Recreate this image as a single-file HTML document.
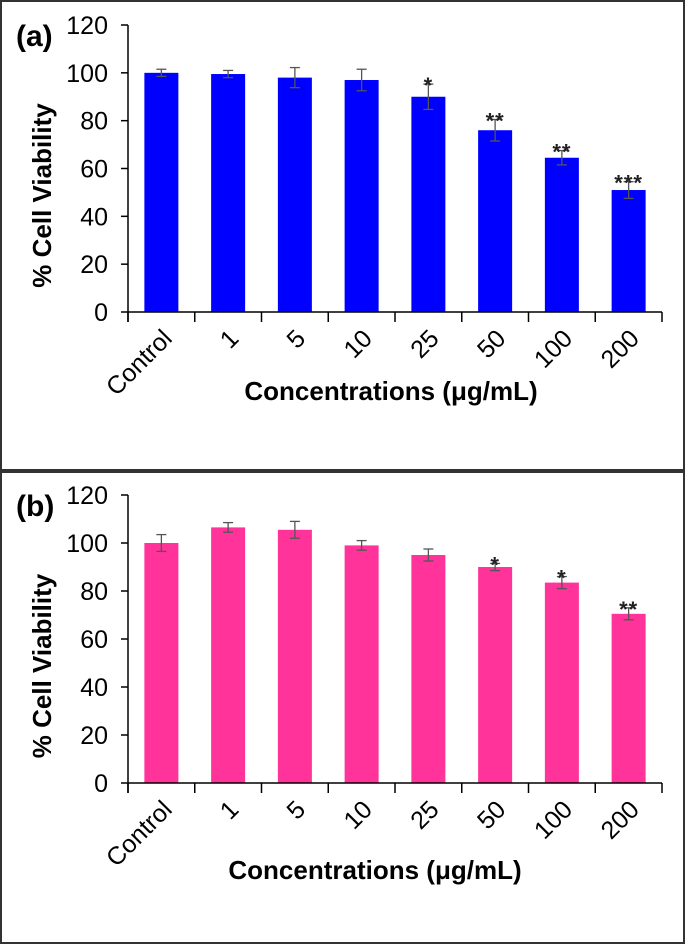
<!DOCTYPE html>
<html><head><meta charset="utf-8"><style>
html,body{margin:0;padding:0;background:#fff;}
svg{display:block;}
text{font-family:"Liberation Sans",Arial,sans-serif;}
</style></head>
<body>
<svg id="fig" width="685" height="945" viewBox="0 0 685 945" xmlns="http://www.w3.org/2000/svg">
<rect x="1" y="1" width="683" height="469" fill="none" stroke="#333" stroke-width="2"/>
<rect x="1" y="472" width="683" height="471" fill="none" stroke="#333" stroke-width="2"/>
</svg>
<script>
const categories = ["Control","1","5","10","25","50","100","200"];
const yTicks = [0,20,40,60,80,100,120];
const valuesA = [100,99.5,98,97,90,76,64.5,51];
const errorsA = [1.5,1.5,4.2,4.5,5.3,4.5,3,3.5];
const starsA = ["","","","","*","**","**","***"];
const valuesB = [100,106.5,105.5,99,95,90,83.5,70.5];
const errorsB = [3.5,2,3.5,2,2.5,1.5,2.5,2.5];
const starsB = ["","","","","","*","*","**"];

const svg = document.getElementById('fig');
const NS = "http://www.w3.org/2000/svg";
function mk(tag, attrs, parent){
  const e = document.createElementNS(NS, tag);
  for (const k in attrs) e.setAttribute(k, attrs[k]);
  (parent||svg).appendChild(e);
  return e;
}

function drawPanel(cfg){
  const {id, top, bottom, values, errors, stars, color, label, xTitleX, xTitleY} = cfg;
  const left = 128, right = 662, yMax = 120;
  const g = mk('g', {});
  
  
  const yS = v => bottom - (v / yMax) * (bottom - top);
  const cw = (right - left) / categories.length;
  const xC = i => left + cw * (i + 0.5);
  const bw = 34;

  values.forEach((v, i) => {
    const r = mk('rect', {x: xC(i) - bw/2, y: yS(v), width: bw, height: yS(0) - yS(v), fill: color}, g);
    
    
  });
  values.forEach((v, i) => {
    const eg = mk('g', {stroke: '#555', 'stroke-width': 1.3}, g);
    
    
    const x = xC(i), y1 = yS(v + errors[i]), y2 = yS(v - errors[i]);
    mk('line', {x1: x, x2: x, y1: y1, y2: y2}, eg);
    mk('line', {x1: x - 5, x2: x + 5, y1: y1, y2: y1}, eg);
    mk('line', {x1: x - 5, x2: x + 5, y1: y2, y2: y2}, eg);
    if (stars[i]) {
      const t = mk('text', {x: x, y: y1 + 9, 'text-anchor': 'middle', 'font-size': 22, 'font-weight': 'bold', fill: '#222', 'letter-spacing': 1}, g);
      
      
      t.textContent = stars[i];
    }
  });
  const ax = mk('g', {stroke: '#000', 'stroke-width': 1.5}, g);
  
  
  mk('line', {x1: left, x2: left, y1: yS(120), y2: yS(0) + 10}, ax);
  mk('line', {x1: left, x2: right, y1: yS(0), y2: yS(0)}, ax);
  for (let i = 0; i <= categories.length; i++) {
    const x = left + cw * i;
    mk('line', {x1: x, x2: x, y1: yS(0), y2: yS(0) + 10}, ax);
  }
  yTicks.forEach(v => {
    mk('line', {x1: left - 7, x2: left, y1: yS(v), y2: yS(v)}, ax);
    const t = mk('text', {x: left - 20, y: yS(v) + 9, 'text-anchor': 'end', 'font-size': 25, fill: '#000'}, g);
    
    
    t.textContent = v;
  });
  categories.forEach((c, i) => {
    const ax0 = xC(i) + 12, ay0 = yS(0) + 28;
    const t = mk('text', {x: ax0, y: ay0, 'text-anchor': 'end', 'font-size': 25, fill: '#000', transform: `rotate(-45 ${ax0} ${ay0})`}, g);
    
    
    t.textContent = c;
  });
  const yt = mk('text', {x: 0, y: 0, 'text-anchor': 'middle', 'font-size': 26, 'font-weight': 'bold', fill: '#000', transform: `translate(51 ${(top + bottom)/2 + 27}) rotate(-90)`}, g);
  
  
  yt.textContent = '% Cell Viability';
  const xt = mk('text', {x: xTitleX, y: xTitleY, 'text-anchor': 'middle', 'font-size': 26, 'font-weight': 'bold', fill: '#000'}, g);
  
  
  xt.textContent = 'Concentrations (μg/mL)';
  const pl = mk('text', {x: 16, y: top + 21, 'font-size': 30, 'font-weight': 'bold', fill: '#000'}, g);
  
  
  pl.textContent = label;
}

drawPanel({id:'a', top:25, bottom:312, values:valuesA, errors:errorsA, stars:starsA, color:'#0000ff', label:'(a)', xTitleX:391, xTitleY:400});
drawPanel({id:'b', top:495, bottom:783, values:valuesB, errors:errorsB, stars:starsB, color:'#ff3399', label:'(b)', xTitleX:375, xTitleY:879});
</script>
</body></html>
